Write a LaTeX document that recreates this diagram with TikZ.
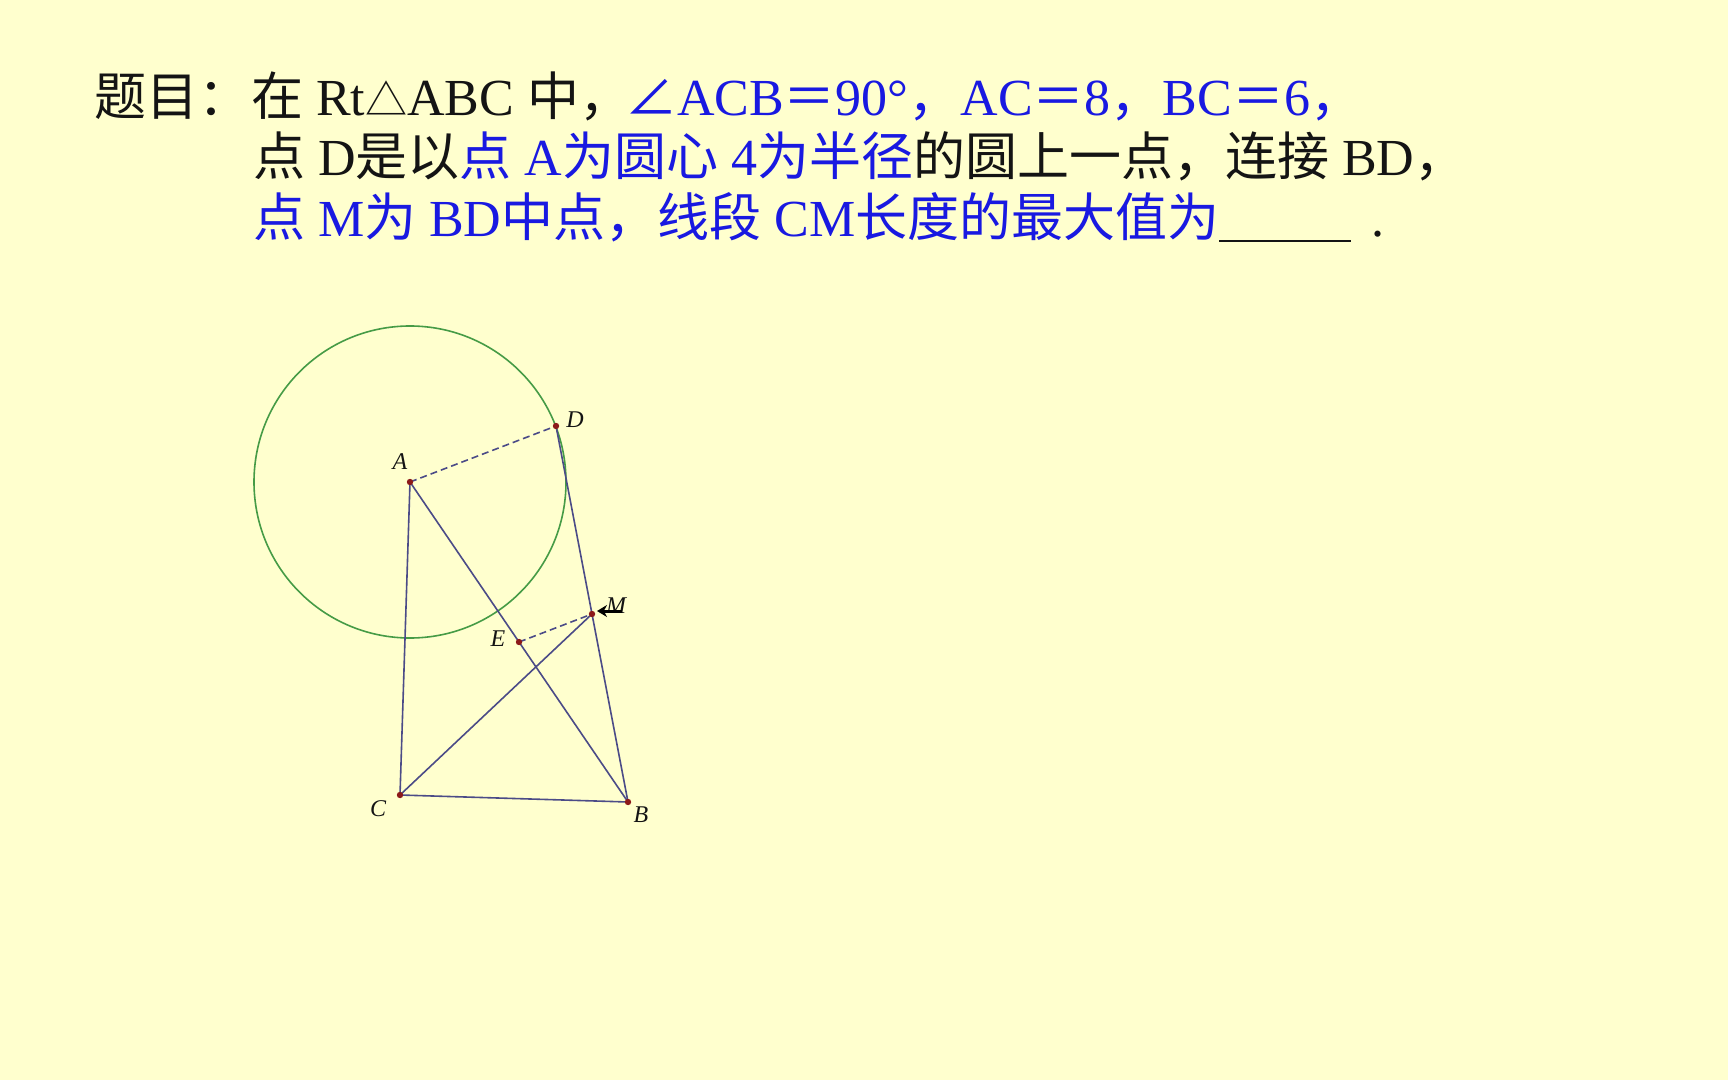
\documentclass[tikz,border=0pt]{standalone}
\usepackage{fontspec}
\setmainfont{Liberation Serif}
\newfontfamily\cjk{Noto Sans CJK SC}
\usetikzlibrary{arrows.meta}
\definecolor{bg}{RGB}{255,255,206}
\definecolor{qblue}{RGB}{25,25,225}
\definecolor{qblack}{RGB}{20,20,20}
\definecolor{segcol}{RGB}{75,75,135}
\definecolor{circcol}{RGB}{70,155,70}
\definecolor{ptcol}{RGB}{140,25,25}
\newcommand\zh[1]{{\cjk #1}}
\begin{document}
\begin{tikzpicture}[x=0.5pt,y=-0.5pt,
  txt/.style={anchor=base west,inner sep=0pt,outer sep=0pt,font=\fontsize{26pt}{30pt}\selectfont},
  seg/.style={draw=segcol,line width=0.8pt},
  dashseg/.style={draw=segcol,line width=0.8pt,dash pattern=on 3.5pt off 2pt},
  circ/.style={draw=circcol,line width=0.8pt},
  lbl/.style={inner sep=0pt,font=\fontsize{12pt}{14pt}\selectfont\itshape,text=qblack},
  pt/.style={fill=ptcol}]
\fill[bg] (0,0) rectangle (1728,1080);
\useasboundingbox (0,0) rectangle (1728,1080);
% text
\node[txt,text=qblack] (t0) at (94,116) {\zh{题目：}};
\node[txt,text=qblack] (t1) at (251,116) {\zh{在} Rt{\cjk\fontsize{21pt}{21pt}\selectfont △}ABC \zh{中，}};
\node[txt,text=qblue] (t2) at (625,116) {\zh{∠}ACB\zh{＝}90°\zh{，}AC\zh{＝}8\zh{，}BC\zh{＝}6\zh{，}};
\node[txt,text=qblack] (l2) at (253,176) {\zh{点} D\zh{是以}{\color{qblue}\zh{点} A\zh{为圆心} 4\zh{为半径}}\zh{的圆上一点，连接} BD\zh{，}};
\node[txt,text=qblue] (l3) at (253,237) {\zh{点} M\zh{为} BD\zh{中点，线段} CM\zh{长度的最大值为}{\color{qblack}\rule[-2.5pt]{66pt}{1pt}\hspace{10pt}.}};
% geometry
\coordinate (A) at (410,482);
\coordinate (D) at (556,426);
\coordinate (C) at (400,795);
\coordinate (B) at (628,802);
\coordinate (E) at (519,642);
\coordinate (M) at (592,614);
\draw[circ] (A) circle[radius=78pt];
\draw[seg] (A) -- (C) -- (B) -- (A);
\draw[seg] (B) -- (D);
\draw[seg] (C) -- (M);
\draw[dashseg] (A) -- (D);
\draw[dashseg] (E) -- (M);
\foreach \p in {A,B,C,D,E,M} \fill[pt] (\p) circle[radius=1.6pt];
\node[lbl] (lA) at (400,462) {A};
\node[lbl] (lD) at (575,420) {D};
\node[lbl] (lM) at (616,606) {M};
\node[lbl] (lE) at (498,639) {E};
\node[lbl] (lC) at (378,809) {C};
\node[lbl] (lB) at (641,815) {B};
% cursor
\coordinate (cur1) at (622,611);
\coordinate (cur2) at (597,611);
\draw[line width=1.5pt,-{Stealth[length=5pt,width=6pt]}] (cur1) -- (cur2);
\end{tikzpicture}
\end{document}
